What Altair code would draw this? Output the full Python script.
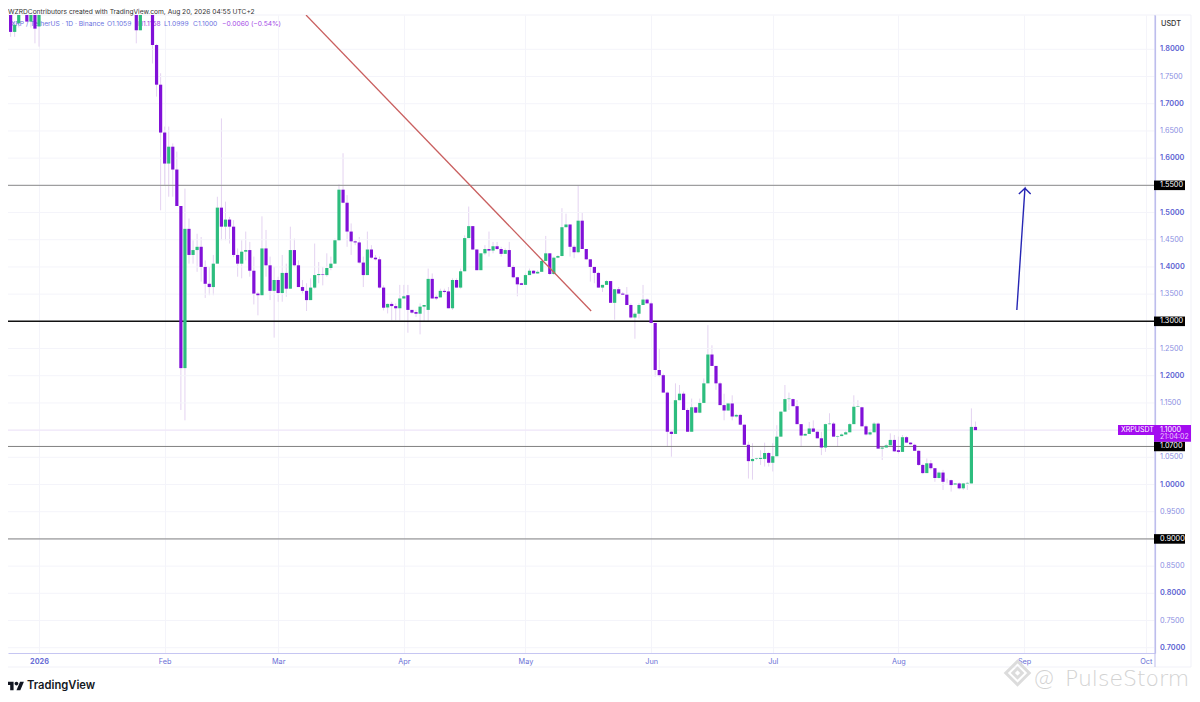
import altair as alt
import pandas as pd

# --- top-left candles (partly above the visible price range)
early_dates = ["2025-12-25", "2025-12-26", "2025-12-27", "2025-12-29", "2025-12-30", "2025-12-31", "2026-01-01", "2026-01-25", "2026-01-26"]
early_open = [1.90, 1.832, 1.848, 1.89, 1.851, 1.88, 1.842, 1.90, 1.835]
early_high = [1.91, 1.85, 1.88, 1.91, 1.90, 1.90, 1.89, 1.91, 1.91]
early_low = [1.823, 1.823, 1.84, 1.851, 1.84, 1.811, 1.805, 1.811, 1.835]
early_close = [1.832, 1.845, 1.87, 1.851, 1.88, 1.838, 1.88, 1.835, 1.90]

# --- continuous daily candles from 2026-01-29 to 2026-08-20
first_day = "2026-01-29"
opens = [
    1.900, 1.808, 1.735, 1.647, 1.590, 1.621, 1.579, 1.512, 1.214, 1.470,
    1.422, 1.431, 1.437, 1.400, 1.369, 1.363, 1.406, 1.509, 1.474, 1.487,
    1.474, 1.422, 1.406, 1.428, 1.431, 1.393, 1.351, 1.348, 1.434, 1.403,
    1.356, 1.376, 1.352, 1.389, 1.360, 1.431, 1.403, 1.363, 1.356, 1.339,
    1.362, 1.385, 1.387, 1.385, 1.398, 1.406, 1.449, 1.542, 1.518, 1.465,
    1.447, 1.445, 1.408, 1.385, 1.432, 1.417, 1.414, 1.362, 1.3255, 1.332,
    1.328, 1.324, 1.342, 1.348, 1.321, 1.317, 1.314, 1.327, 1.321, 1.378,
    1.345, 1.344, 1.356, 1.355, 1.324, 1.376, 1.362, 1.392, 1.453, 1.475,
    1.432, 1.394, 1.425, 1.433, 1.430, 1.438, 1.433, 1.424, 1.431, 1.400,
    1.381, 1.370, 1.367, 1.385, 1.393, 1.388, 1.391, 1.411, 1.425, 1.387,
    1.417, 1.420, 1.473, 1.478, 1.437, 1.427, 1.485, 1.433, 1.414, 1.400,
    1.389, 1.362, 1.367, 1.374, 1.334, 1.359, 1.351, 1.349, 1.330, 1.307,
    1.314, 1.330, 1.340, 1.333, 1.297, 1.2105, 1.201, 1.169, 1.097, 1.093,
    1.155, 1.167, 1.137, 1.097, 1.142, 1.132, 1.150, 1.186, 1.239, 1.218,
    1.186, 1.146, 1.136, 1.149, 1.125, 1.128, 1.110, 1.073, 1.043, 1.047,
    1.047, 1.047, 1.058, 1.040, 1.052, 1.088, 1.134, 1.157, 1.157, 1.144,
    1.111, 1.090, 1.093, 1.103, 1.097, 1.085, 1.068, 1.111, 1.112, 1.088,
    1.089, 1.092, 1.096, 1.111, 1.143, 1.142, 1.107, 1.092, 1.096, 1.112,
    1.066, 1.068, 1.072, 1.082, 1.063, 1.060, 1.087, 1.077, 1.073, 1.062,
    1.036, 1.021, 1.039, 1.030, 1.012, 1.022, 1.006, 1.008, 1.000, 1.002,
    0.993, 1.002, 1.002, 1.1059,
]
highs = [
    1.910, 1.810, 1.756, 1.658, 1.658, 1.627, 1.612, 1.512, 1.544, 1.489,
    1.449, 1.461, 1.455, 1.412, 1.400, 1.422, 1.529, 1.673, 1.520, 1.492,
    1.486, 1.434, 1.449, 1.465, 1.446, 1.419, 1.354, 1.493, 1.468, 1.419,
    1.400, 1.382, 1.422, 1.406, 1.474, 1.452, 1.412, 1.376, 1.370, 1.379,
    1.443, 1.409, 1.400, 1.425, 1.419, 1.452, 1.552, 1.609, 1.532, 1.480,
    1.449, 1.455, 1.419, 1.465, 1.440, 1.422, 1.419, 1.366, 1.333, 1.336,
    1.333, 1.367, 1.367, 1.367, 1.321, 1.321, 1.333, 1.330, 1.397, 1.388,
    1.348, 1.360, 1.360, 1.363, 1.379, 1.379, 1.397, 1.458, 1.511, 1.475,
    1.432, 1.425, 1.440, 1.465, 1.446, 1.446, 1.437, 1.434, 1.446, 1.403,
    1.382, 1.371, 1.388, 1.397, 1.394, 1.394, 1.416, 1.457, 1.425, 1.419,
    1.422, 1.508, 1.498, 1.478, 1.440, 1.550, 1.501, 1.433, 1.414, 1.400,
    1.391, 1.367, 1.376, 1.374, 1.359, 1.363, 1.354, 1.363, 1.333, 1.317,
    1.333, 1.367, 1.342, 1.336, 1.297, 1.250, 1.204, 1.171, 1.100, 1.186,
    1.183, 1.171, 1.140, 1.158, 1.143, 1.158, 1.195, 1.293, 1.256, 1.218,
    1.189, 1.167, 1.150, 1.164, 1.130, 1.130, 1.110, 1.079, 1.076, 1.050,
    1.063, 1.077, 1.060, 1.076, 1.109, 1.134, 1.183, 1.169, 1.158, 1.155,
    1.111, 1.095, 1.115, 1.118, 1.098, 1.097, 1.112, 1.131, 1.115, 1.090,
    1.094, 1.098, 1.113, 1.164, 1.155, 1.143, 1.110, 1.098, 1.115, 1.114,
    1.070, 1.075, 1.094, 1.091, 1.088, 1.091, 1.089, 1.078, 1.075, 1.063,
    1.038, 1.048, 1.045, 1.030, 1.024, 1.027, 1.011, 1.009, 1.002, 1.004,
    1.003, 1.005, 1.140, 1.1158,
]
lows = [
    1.774, 1.713, 1.504, 1.550, 1.529, 1.529, 1.512, 1.137, 1.118, 1.406,
    1.406, 1.391, 1.373, 1.343, 1.348, 1.348, 1.406, 1.449, 1.449, 1.443,
    1.418, 1.382, 1.379, 1.412, 1.382, 1.331, 1.311, 1.348, 1.382, 1.339,
    1.270, 1.336, 1.336, 1.345, 1.360, 1.400, 1.363, 1.351, 1.319, 1.339,
    1.360, 1.370, 1.366, 1.382, 1.394, 1.406, 1.449, 1.517, 1.437, 1.422,
    1.440, 1.406, 1.363, 1.385, 1.415, 1.412, 1.360, 1.320, 1.3145, 1.302,
    1.302, 1.302, 1.342, 1.279, 1.314, 1.308, 1.276, 1.299, 1.299, 1.342,
    1.339, 1.344, 1.351, 1.324, 1.321, 1.362, 1.360, 1.392, 1.453, 1.431,
    1.394, 1.394, 1.422, 1.419, 1.425, 1.431, 1.419, 1.424, 1.400, 1.379,
    1.346, 1.367, 1.367, 1.385, 1.387, 1.387, 1.391, 1.411, 1.385, 1.385,
    1.416, 1.420, 1.473, 1.419, 1.416, 1.425, 1.433, 1.413, 1.373, 1.370,
    1.362, 1.354, 1.367, 1.334, 1.303, 1.351, 1.349, 1.330, 1.305, 1.268,
    1.305, 1.330, 1.333, 1.296, 1.198, 1.198, 1.169, 1.069, 1.051, 1.093,
    1.155, 1.137, 1.097, 1.097, 1.131, 1.131, 1.150, 1.186, 1.218, 1.174,
    1.146, 1.118, 1.136, 1.118, 1.123, 1.109, 1.073, 1.011, 1.009, 1.045,
    1.036, 1.033, 1.033, 1.024, 1.052, 1.088, 1.134, 1.137, 1.144, 1.111,
    1.069, 1.089, 1.093, 1.097, 1.085, 1.054, 1.060, 1.110, 1.088, 1.069,
    1.089, 1.092, 1.096, 1.111, 1.143, 1.107, 1.090, 1.090, 1.096, 1.066,
    1.045, 1.068, 1.072, 1.060, 1.057, 1.060, 1.077, 1.073, 1.062, 1.034,
    1.019, 1.021, 1.027, 1.005, 1.011, 0.990, 1.002, 0.987, 0.999, 0.991,
    0.990, 0.990, 1.002, 1.0999,
]
closes = [
    1.808, 1.735, 1.647, 1.590, 1.621, 1.579, 1.512, 1.214, 1.470, 1.422,
    1.431, 1.437, 1.400, 1.369, 1.363, 1.406, 1.509, 1.474, 1.487, 1.474,
    1.422, 1.406, 1.428, 1.431, 1.393, 1.351, 1.348, 1.434, 1.403, 1.356,
    1.376, 1.352, 1.389, 1.360, 1.431, 1.403, 1.363, 1.356, 1.339, 1.362,
    1.385, 1.387, 1.386, 1.398, 1.406, 1.449, 1.542, 1.518, 1.465, 1.447,
    1.445, 1.408, 1.385, 1.432, 1.417, 1.414, 1.362, 1.325, 1.332, 1.328,
    1.324, 1.342, 1.346, 1.321, 1.316, 1.314, 1.327, 1.330, 1.378, 1.342,
    1.342, 1.356, 1.354, 1.324, 1.376, 1.362, 1.392, 1.453, 1.475, 1.432,
    1.394, 1.425, 1.433, 1.430, 1.438, 1.433, 1.424, 1.431, 1.400, 1.381,
    1.368, 1.367, 1.385, 1.393, 1.388, 1.391, 1.411, 1.425, 1.387, 1.417,
    1.420, 1.473, 1.478, 1.437, 1.427, 1.485, 1.433, 1.414, 1.400, 1.389,
    1.362, 1.367, 1.374, 1.334, 1.359, 1.351, 1.349, 1.330, 1.307, 1.314,
    1.330, 1.340, 1.333, 1.297, 1.2105, 1.201, 1.169, 1.097, 1.093, 1.155,
    1.167, 1.137, 1.097, 1.142, 1.132, 1.150, 1.186, 1.239, 1.218, 1.186,
    1.146, 1.136, 1.149, 1.125, 1.128, 1.110, 1.073, 1.043, 1.047, 1.048,
    1.049, 1.058, 1.040, 1.052, 1.088, 1.134, 1.157, 1.158, 1.144, 1.111,
    1.090, 1.093, 1.103, 1.097, 1.085, 1.068, 1.111, 1.112, 1.088, 1.089,
    1.092, 1.096, 1.111, 1.143, 1.144, 1.107, 1.092, 1.096, 1.112, 1.066,
    1.068, 1.072, 1.082, 1.061, 1.060, 1.087, 1.077, 1.074, 1.062, 1.036,
    1.021, 1.039, 1.030, 1.012, 1.022, 1.005, 1.006, 0.999, 1.002, 0.993,
    1.002, 1.003, 1.1059, 1.100,
]

# --- drawings
level_prices = [1.55, 1.30, 1.07, 0.90]
level_labels = ["1.5500", "1.3000", "1.0700", "0.9000"]
level_widths = [1, 1.6, 1, 1]
level_colors = ["#8a8a8a", "#111111", "#808080", "#808080"]
trend_dates = ["2026-03-07T21:00:00Z", "2026-05-17T05:00:00Z"]
trend_prices = [1.863, 1.319]
arrow_dates = ["2026-08-30T05:00:00Z", "2026-09-01T05:00:00Z", "2026-08-30T17:00:00Z", "2026-09-01T05:00:00Z", "2026-09-02T15:00:00Z"]
arrow_prices = [1.3208, 1.5445, 1.534, 1.5445, 1.534]
price_ticks = [0.70, 0.75, 0.80, 0.85, 0.90, 0.95, 1.00, 1.05, 1.10, 1.15, 1.20, 1.25,
               1.30, 1.35, 1.40, 1.45, 1.50, 1.55, 1.60, 1.65, 1.70, 1.75, 1.80]
bold_labels = [0.70, 0.80, 1.00, 1.20, 1.40, 1.50, 1.60, 1.70, 1.80]
light_labels = [0.75, 0.85, 0.95, 1.05, 1.15, 1.25, 1.35, 1.45, 1.65, 1.75]
month_ticks = ["2026-01-01", "2026-02-01", "2026-03-01", "2026-04-01", "2026-05-01",
               "2026-06-01", "2026-07-01", "2026-08-01", "2026-09-01", "2026-10-01"]
legend_parts = ["XRP / TetherUS · 1D · Binance", "O1.1059", "H1.1158", "L1.0999", "C1.1000", "−0.0060 (−0.54%)"]

GREEN = "#2dbd7e"
PURPLE = "#8110d8"
WICK = "#e4d3f1"
AXIS = "#bdbdec"
LABEL = "#6a6fd6"
GRID = "#f4f4fa"
FONT = "Inter"


def ms(s):
    return int(pd.Timestamp(s).timestamp() * 1000)


dates = [d + "T00:00:00Z" for d in early_dates] + [
    d.strftime("%Y-%m-%dT00:00:00Z") for d in pd.date_range(first_day, periods=len(opens))
]
o = early_open + opens
h = early_high + highs
l = early_low + lows
c = early_close + closes
candles = pd.DataFrame({"date": dates, "open": o, "high": h, "low": l, "close": c})
candles["dir"] = ["up" if b >= a else "down" for a, b in zip(o, c)]

x_scale = alt.Scale(type="utc", domain=[ms("2025-12-24T08:28:00Z"), ms("2026-10-03T07:00:00Z")], nice=False, padding=0)
y_scale = alt.Scale(domain=[0.6903, 1.8631], nice=False, zero=False)

x_enc = alt.X(
    "date:T",
    scale=x_scale,
    axis=alt.Axis(
        values=[ms(m) for m in month_ticks],
        labelExpr="utcFormat(datum.value,'%m')=='01' ? utcFormat(datum.value,'%Y') : utcFormat(datum.value,'%b')",
        labelFontWeight={"condition": {"test": "utcFormat(datum.value,'%m')=='01'", "value": 700}, "value": 400},
        labelColor=LABEL, labelFontSize=7.3, labelFont=FONT, labelPadding=4,
        ticks=False, domainColor="#c6c6f2", domainWidth=1.2, gridColor=GRID, grid=True, title=None,
        labelOverlap=False, labelFlush=False,
    ),
)
y_enc = alt.Y(
    "high:Q",
    scale=y_scale,
    axis=alt.Axis(orient="right", labels=False, ticks=False, domainColor=AXIS, domainWidth=1.2, grid=False, title=None),
)

wicks = alt.Chart(candles).mark_rule(color=WICK, strokeWidth=1, clip=True).encode(x=x_enc, y=y_enc, y2="low:Q")
bodies = alt.Chart(candles).mark_bar(size=3.2, clip=True, orient="vertical").encode(
    x=alt.X("date:T", scale=x_scale),
    y=alt.Y("open:Q", scale=y_scale),
    y2="close:Q",
    color=alt.Color("dir:N", scale=alt.Scale(domain=["up", "down"], range=[GREEN, PURPLE]), legend=None),
)

price_grid = alt.Chart(pd.DataFrame({"price": price_ticks})).mark_rule(color=GRID, strokeWidth=1).encode(
    y=alt.Y("price:Q", scale=y_scale), x=alt.value(0), x2=alt.value(1147))


def tick_labels(values, weight, color):
    df = pd.DataFrame({"price": values, "t": [f"{v:.4f}" for v in values]})
    return alt.Chart(df).mark_text(align="left", baseline="middle", fontSize=7.3, color=color,
                                   fontWeight=weight, font=FONT).encode(
        y=alt.Y("price:Q", scale=y_scale), x=alt.value(1152), text="t:N")


bold_axis = tick_labels(bold_labels, 600, "#5c62d2")
light_axis = tick_labels(light_labels, 400, "#8a8ee2")


def text(s, x, y, size=8, color=LABEL, weight=400, font=FONT):
    return alt.Chart().mark_text(align="left", baseline="middle", fontSize=size, color=color,
                                 fontWeight=weight, font=font, clip=False).encode(
        x=alt.value(x), y=alt.value(y), text=alt.datum(s))


# header and legend sit beneath the candles, as in the original
header = text("WZRDContributors created with TradingView.com, Aug 20, 2026 04:55 UTC+2", 0, -3, 6.65, "#333333")
legend_x = [3, 99, 130, 156, 185, 214]
legend_colors = ["#6a72e0", "#6a72e0", "#9a3fe0", "#6a72e0", "#6a72e0", "#a44ae6"]
legend = [text(p, x, 8.5, 6.7, col) for p, x, col in zip(legend_parts, legend_x, legend_colors)]

levels_df = pd.DataFrame({"price": level_prices, "label": level_labels, "w": level_widths, "col": level_colors})
levels = alt.Chart(levels_df).mark_rule().encode(
    y=alt.Y("price:Q", scale=y_scale),
    x=alt.value(0), x2=alt.value(1147),
    color=alt.Color("col:N", scale=None),
    strokeWidth=alt.StrokeWidth("w:Q", scale=None),
)
last_line = alt.Chart(pd.DataFrame({"price": [1.10]})).mark_rule(color="#efe4f8", strokeWidth=1).encode(
    y=alt.Y("price:Q", scale=y_scale), x=alt.value(0), x2=alt.value(1147))

trend = alt.Chart(pd.DataFrame({"date": trend_dates, "price": trend_prices})).mark_line(
    color="#c95f5f", strokeWidth=1.3, clip=True).encode(
    x=alt.X("date:T", scale=x_scale), y=alt.Y("price:Q", scale=y_scale))
arrow = alt.Chart(pd.DataFrame({"date": arrow_dates, "price": arrow_prices, "i": list(range(len(arrow_dates)))})).mark_line(
    color="#2626b4", strokeWidth=1.4).encode(
    x=alt.X("date:T", scale=x_scale), y=alt.Y("price:Q", scale=y_scale), order="i:Q")

tag_half = 0.0088
tag_df = pd.DataFrame({"hi": [p + tag_half for p in level_prices], "lo": [p - tag_half for p in level_prices],
                       "price": level_prices, "label": level_labels})
tags = alt.Chart(tag_df).mark_rect(color="#000000").encode(
    y=alt.Y("hi:Q", scale=y_scale), y2="lo:Q", x=alt.value(1146), x2=alt.value(1177))
tag_text = alt.Chart(tag_df).mark_text(align="left", baseline="middle", fontSize=7.3, color="#ffffff", font=FONT).encode(
    y=alt.Y("price:Q", scale=y_scale), x=alt.value(1152), text="label:N")

PTAG = "#a30cf0"
price_tag = alt.Chart(pd.DataFrame({"hi": [1.1094], "lo": [1.091]})).mark_rect(color=PTAG).encode(
    y=alt.Y("hi:Q", scale=y_scale), y2="lo:Q", x=alt.value(1110), x2=alt.value(1147))
time_tag = alt.Chart(pd.DataFrame({"hi": [1.1094], "lo": [1.0787]})).mark_rect(color=PTAG).encode(
    y=alt.Y("hi:Q", scale=y_scale), y2="lo:Q", x=alt.value(1146), x2=alt.value(1183))
sym = alt.Chart(pd.DataFrame({"price": [1.10], "t": ["XRPUSDT"]})).mark_text(
    align="left", baseline="middle", fontSize=7, color="#ffffff", font=FONT).encode(
    y=alt.Y("price:Q", scale=y_scale), x=alt.value(1113), text="t:N")
last_val = alt.Chart(pd.DataFrame({"price": [1.10], "t": ["1.1000"]})).mark_text(
    align="left", baseline="middle", fontSize=7.3, color="#ffffff", font=FONT).encode(
    y=alt.Y("price:Q", scale=y_scale), x=alt.value(1152), text="t:N")
countdown = alt.Chart(pd.DataFrame({"price": [1.0865], "t": ["21:04:02"]})).mark_text(
    align="left", baseline="middle", fontSize=7, color="#ecc9ff", font=FONT).encode(
    y=alt.Y("price:Q", scale=y_scale), x=alt.value(1152), text="t:N")

usdt = text("USDT", 1153, 9, 7.3, "#333333", 500)

TV_LOGO = ("M-0.111,0.25 H-0.306 V-0.056 H-0.5 V-0.25 H-0.111 Z "
           "M0.278,0.25 H0.056 L0.264,-0.25 H0.486 Z "
           "M-0.055,-0.139 a0.111,0.111 0 1 0 0.222,0 a0.111,0.111 0 1 0 -0.222,0 Z")
logo = alt.Chart().mark_point(shape=TV_LOGO, filled=True, color="#131722", opacity=1, size=1200, clip=False).encode(
    x=alt.value(7.5), y=alt.value(671))
logo_text = text("TradingView", 19, 671, 11.2, "#131722", 600)

BADGE = ("M0,-0.5 L0.5,0 L0,0.5 L-0.5,0 Z M0,-0.2 L0.2,0 L0,0.2 L-0.2,0 Z")
wm_icon = alt.Chart().mark_point(shape=BADGE, filled=False, color="#dcdcdc", strokeWidth=3, opacity=1, size=2200, clip=False).encode(
    x=alt.value(1009.5), y=alt.value(658))
wm_at = text("@", 1026, 664, 24, "#d2d2d2", 300, "Lato")
wm_name = text("PulseStorm", 1057, 664, 22, "#d2d2d2", 200, "DejaVu Sans")


# faint chrome around the price and time scales
def hline(y, x1, x2, color="#f1f1f8"):
    return alt.Chart().mark_rule(color=color, strokeWidth=1, clip=False).encode(
        y=alt.value(y), x=alt.value(x1), x2=alt.value(x2))


def vline(x, y1, y2, color="#f1f1f8"):
    return alt.Chart().mark_rule(color=color, strokeWidth=1, clip=False).encode(
        x=alt.value(x), y=alt.value(y1), y2=alt.value(y2))


chrome = [hline(0, 0, 1183), hline(652, 0, 1183), vline(1183, 0, 652), vline(1147, 638, 652, AXIS), vline(1147, 0, 638, AXIS)]

chart = alt.layer(
    wicks, price_grid, last_line, *chrome, header, *legend, levels, bold_axis, light_axis, bodies, trend, arrow,
    tags, tag_text, price_tag, time_tag, sym, last_val, countdown, usdt,
    logo, logo_text, wm_icon, wm_at, wm_name,
).properties(
    width=1147, height=638,
    padding={"left": 0, "right": 37, "top": 7, "bottom": 39},
    autosize=alt.AutoSizeParams(type="none"),
    background="#ffffff",
).configure_view(stroke=None)

chart.save("out.html", embed_options={"renderer": "svg", "actions": False})
